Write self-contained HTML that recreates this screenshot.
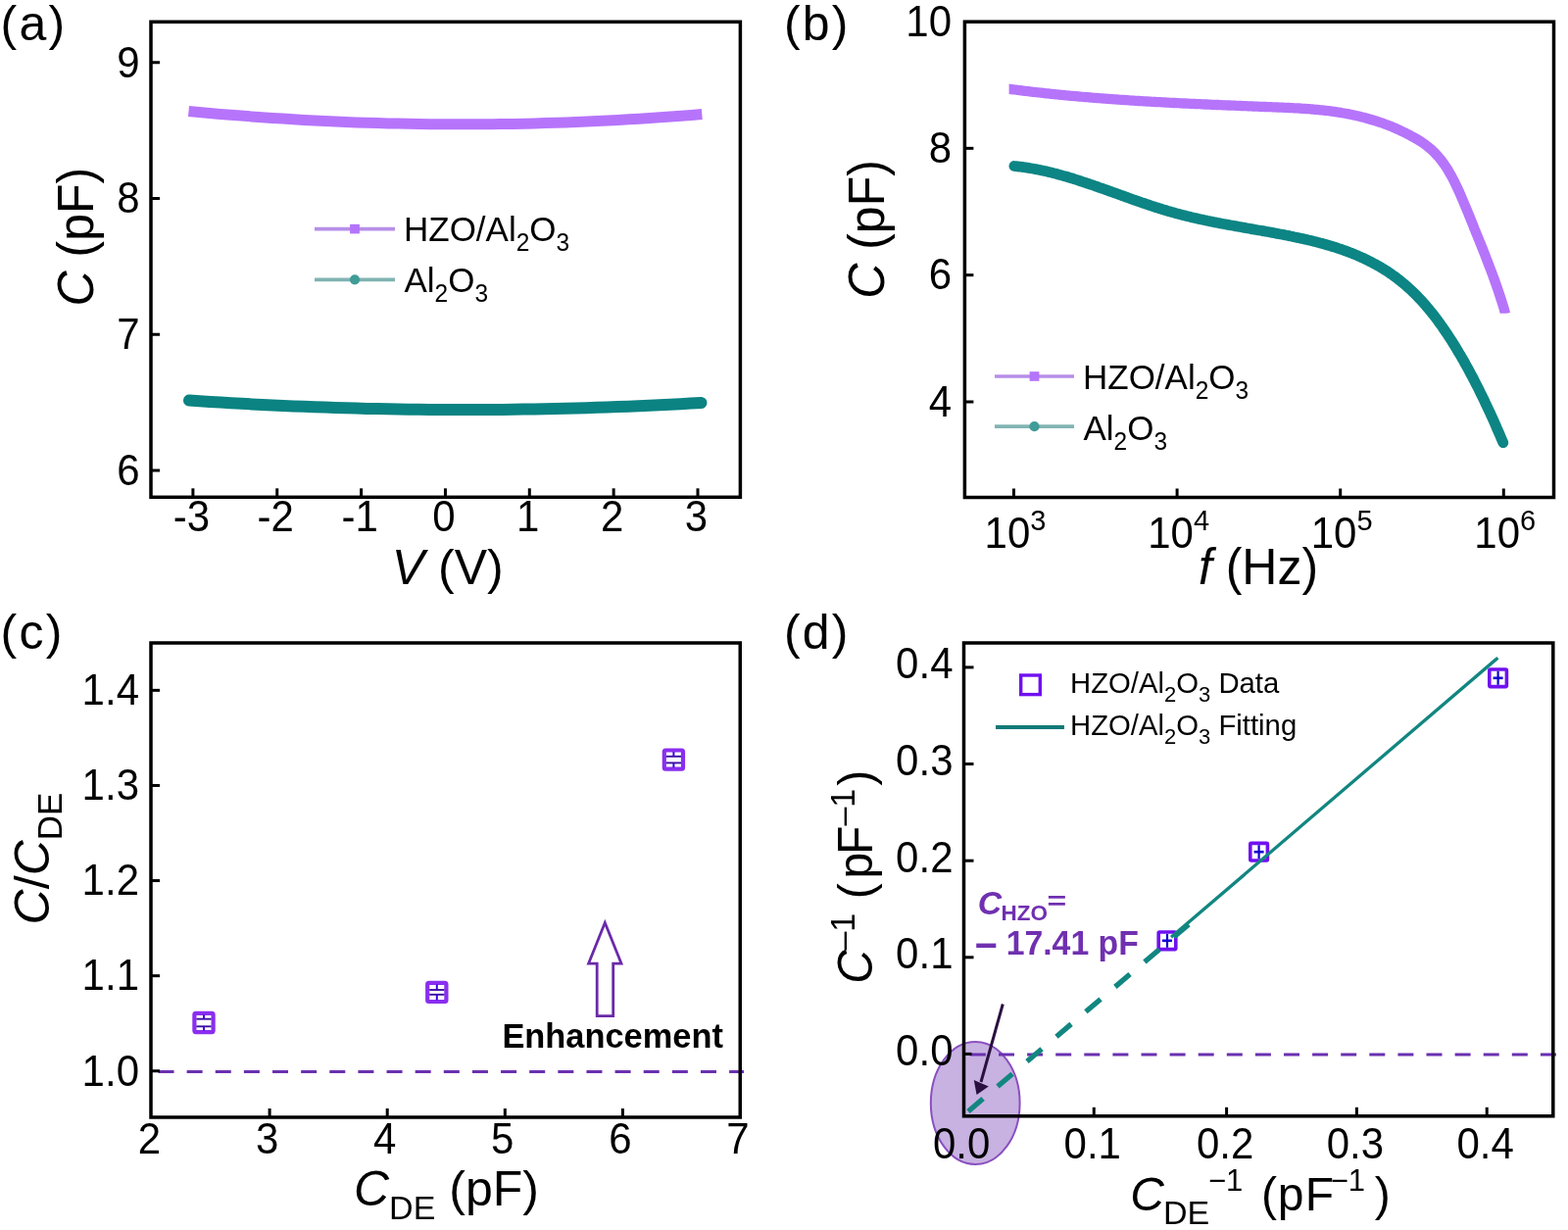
<!DOCTYPE html>
<html><head><meta charset="utf-8"><title>Capacitance figure</title>
<style>
html,body{margin:0;padding:0;background:#fff;}
svg{display:block;}
text{font-family:"Liberation Sans", Arial, sans-serif;}
</style></head>
<body>
<svg width="1600" height="1255" viewBox="0 0 1600 1255">
<rect width="1600" height="1255" fill="#fff"/>
<text transform="translate(0.60,41.40)" font-size="50" letter-spacing="2.2">(a)</text>
<text transform="translate(800.00,41.40)" font-size="50" letter-spacing="2.2">(b)</text>
<text transform="translate(0.60,661.90)" font-size="50" letter-spacing="2.2">(c)</text>
<text transform="translate(800.00,661.90)" font-size="50" letter-spacing="2.2">(d)</text>
<polyline points="192.5,113.5 203.2,114.5 213.9,115.5 224.6,116.4 235.3,117.3 245.9,118.1 256.6,118.9 267.3,119.7 278.0,120.4 288.7,121.1 299.4,121.8 310.1,122.4 320.8,123.0 331.5,123.5 342.2,124.0 352.8,124.4 363.5,124.9 374.2,125.2 384.9,125.6 395.6,125.9 406.3,126.1 417.0,126.3 427.7,126.5 438.4,126.7 449.1,126.8 459.7,126.8 470.4,126.8 481.1,126.8 491.8,126.8 502.5,126.7 513.2,126.5 523.9,126.4 534.6,126.2 545.3,125.9 556.0,125.6 566.6,125.3 577.3,124.9 588.0,124.5 598.7,124.0 609.4,123.6 620.1,123.0 630.8,122.5 641.5,121.8 652.2,121.2 662.9,120.5 673.5,119.8 684.2,119.0 694.9,118.2 705.6,117.4 716.3,116.5" fill="none" stroke="#b674fb" stroke-width="11" stroke-linecap="butt"/>
<polyline points="193.0,408.6 203.7,409.3 214.3,410.0 225.0,410.6 235.7,411.3 246.3,411.8 257.0,412.4 267.6,413.0 278.3,413.5 289.0,414.0 299.6,414.4 310.3,414.8 321.0,415.3 331.6,415.6 342.3,416.0 352.9,416.3 363.6,416.6 374.3,416.9 384.9,417.1 395.6,417.3 406.3,417.5 416.9,417.7 427.6,417.8 438.3,417.9 448.9,418.0 459.6,418.0 470.2,418.0 480.9,418.0 491.6,418.0 502.2,417.9 512.9,417.9 523.6,417.7 534.2,417.6 544.9,417.4 555.6,417.2 566.2,417.0 576.9,416.8 587.5,416.5 598.2,416.2 608.9,415.8 619.5,415.5 630.2,415.1 640.9,414.7 651.5,414.2 662.2,413.8 672.8,413.3 683.5,412.7 694.2,412.2 704.8,411.6 715.5,411.0" fill="none" stroke="#0a8382" stroke-width="12" stroke-linecap="round"/>
<rect x="154" y="22.3" width="601.4" height="485.0" fill="none" stroke="#000" stroke-width="3.5"/>
<line x1="196.9" y1="507.3" x2="196.9" y2="498.3" stroke="#000" stroke-width="3"/>
<text transform="translate(195.40,542.00) scale(1,1.035)" font-size="42" text-anchor="middle">-3</text>
<line x1="282.75" y1="507.3" x2="282.75" y2="498.3" stroke="#000" stroke-width="3"/>
<text transform="translate(281.25,542.00) scale(1,1.035)" font-size="42" text-anchor="middle">-2</text>
<line x1="368.6" y1="507.3" x2="368.6" y2="498.3" stroke="#000" stroke-width="3"/>
<text transform="translate(367.10,542.00) scale(1,1.035)" font-size="42" text-anchor="middle">-1</text>
<line x1="454.44999999999993" y1="507.3" x2="454.44999999999993" y2="498.3" stroke="#000" stroke-width="3"/>
<text transform="translate(452.95,542.00) scale(1,1.035)" font-size="42" text-anchor="middle">0</text>
<line x1="540.3" y1="507.3" x2="540.3" y2="498.3" stroke="#000" stroke-width="3"/>
<text transform="translate(538.80,542.00) scale(1,1.035)" font-size="42" text-anchor="middle">1</text>
<line x1="626.15" y1="507.3" x2="626.15" y2="498.3" stroke="#000" stroke-width="3"/>
<text transform="translate(624.65,542.00) scale(1,1.035)" font-size="42" text-anchor="middle">2</text>
<line x1="711.9999999999999" y1="507.3" x2="711.9999999999999" y2="498.3" stroke="#000" stroke-width="3"/>
<text transform="translate(710.50,542.00) scale(1,1.035)" font-size="42" text-anchor="middle">3</text>
<line x1="154" y1="480.0" x2="163" y2="480.0" stroke="#000" stroke-width="3"/>
<text transform="translate(142.50,494.80) scale(1,1.035)" font-size="42" text-anchor="end">6</text>
<line x1="154" y1="341.25" x2="163" y2="341.25" stroke="#000" stroke-width="3"/>
<text transform="translate(142.50,356.05) scale(1,1.035)" font-size="42" text-anchor="end">7</text>
<line x1="154" y1="202.5" x2="163" y2="202.5" stroke="#000" stroke-width="3"/>
<text transform="translate(142.50,217.30) scale(1,1.035)" font-size="42" text-anchor="end">8</text>
<line x1="154" y1="63.75" x2="163" y2="63.75" stroke="#000" stroke-width="3"/>
<text transform="translate(142.50,78.55) scale(1,1.035)" font-size="42" text-anchor="end">9</text>
<text transform="translate(95.30,241.70) rotate(-90) scale(1,1.02)" font-size="50" text-anchor="middle"><tspan font-style="italic">C</tspan> (pF)</text>
<text transform="translate(456.80,595.80)" font-size="50" text-anchor="middle"><tspan font-style="italic">V</tspan> (V)</text>
<line x1="321" y1="233.6" x2="403" y2="233.6" stroke="#b78ee9" stroke-width="3.6"/>
<rect x="357.1" y="228.79999999999998" width="9.8" height="9.6" fill="#b574fc"/>
<line x1="321" y1="285.3" x2="403" y2="285.3" stroke="#80b4b2" stroke-width="3.8"/>
<circle cx="362.0" cy="285.3" r="5.1" fill="#3f9c97"/>
<text transform="translate(412.00,245.90) scale(1,1.02)" font-size="35">HZO/Al<tspan font-size="24.5" dy="10">2</tspan><tspan dy="-10">O</tspan><tspan font-size="24.5" dy="10">3</tspan></text>
<text transform="translate(412.50,297.50) scale(1,1.02)" font-size="35">Al<tspan font-size="24.5" dy="10">2</tspan><tspan dy="-10">O</tspan><tspan font-size="24.5" dy="10">3</tspan></text>
<clipPath id="cpb"><rect x="1029.6" y="60" width="560" height="259.8"/></clipPath>
<polyline clip-path="url(#cpb)" points="1026.5,90.3 1030.5,90.9 1032.2,91.1 1033.9,91.3 1035.6,91.5 1037.2,91.7 1038.9,92.0 1040.6,92.2 1042.3,92.4 1044.0,92.6 1045.7,92.8 1047.4,93.0 1049.1,93.2 1050.7,93.4 1052.4,93.6 1054.1,93.8 1055.8,94.0 1057.5,94.2 1059.2,94.3 1060.9,94.5 1062.5,94.7 1064.2,94.9 1065.9,95.1 1067.6,95.3 1069.3,95.4 1071.0,95.6 1072.7,95.8 1074.4,96.0 1076.0,96.1 1077.7,96.3 1079.4,96.5 1081.1,96.6 1082.8,96.8 1084.5,97.0 1086.2,97.1 1087.8,97.3 1089.5,97.5 1091.2,97.6 1092.9,97.8 1094.6,97.9 1096.3,98.1 1098.0,98.2 1099.7,98.4 1101.3,98.5 1103.0,98.7 1104.7,98.8 1106.4,99.0 1108.1,99.1 1109.8,99.2 1111.5,99.4 1113.1,99.5 1114.8,99.7 1116.5,99.8 1118.2,99.9 1119.9,100.1 1121.6,100.2 1123.3,100.3 1125.0,100.4 1126.6,100.6 1128.3,100.7 1130.0,100.8 1131.7,100.9 1133.4,101.1 1135.1,101.2 1136.8,101.3 1138.4,101.4 1140.1,101.5 1141.8,101.7 1143.5,101.8 1145.2,101.9 1146.9,102.0 1148.6,102.1 1150.3,102.2 1151.9,102.3 1153.6,102.5 1155.3,102.6 1157.0,102.7 1158.7,102.8 1160.4,102.9 1162.1,103.0 1163.7,103.1 1165.4,103.2 1167.1,103.3 1168.8,103.4 1170.5,103.5 1172.2,103.6 1173.9,103.7 1175.5,103.8 1177.2,103.9 1178.9,104.0 1180.6,104.1 1182.3,104.2 1184.0,104.2 1185.7,104.3 1187.4,104.4 1189.0,104.5 1190.7,104.6 1192.4,104.7 1194.1,104.8 1195.8,104.9 1197.5,105.0 1199.2,105.0 1200.8,105.1 1202.5,105.2 1204.2,105.3 1205.9,105.4 1207.6,105.5 1209.3,105.5 1211.0,105.6 1212.7,105.7 1214.3,105.8 1216.0,105.9 1217.7,105.9 1219.4,106.0 1221.1,106.1 1222.8,106.2 1224.5,106.2 1226.1,106.3 1227.8,106.4 1229.5,106.5 1231.2,106.5 1232.9,106.6 1234.6,106.7 1236.3,106.8 1238.0,106.8 1239.6,106.9 1241.3,107.0 1243.0,107.0 1244.7,107.1 1246.4,107.2 1248.1,107.3 1249.8,107.3 1251.4,107.4 1253.1,107.5 1254.8,107.5 1256.5,107.6 1258.2,107.7 1259.9,107.7 1261.6,107.8 1263.3,107.9 1264.9,107.9 1266.6,108.0 1268.3,108.1 1270.0,108.2 1271.7,108.2 1273.4,108.3 1275.1,108.4 1276.7,108.4 1278.4,108.5 1280.1,108.6 1281.8,108.6 1283.5,108.7 1285.2,108.8 1286.9,108.8 1288.6,108.9 1290.2,109.0 1291.9,109.0 1293.6,109.1 1295.3,109.2 1297.0,109.2 1298.7,109.3 1300.4,109.4 1302.0,109.4 1303.7,109.5 1305.4,109.6 1307.1,109.6 1308.8,109.7 1310.5,109.8 1312.2,109.9 1313.9,109.9 1315.5,110.0 1317.2,110.1 1318.9,110.2 1320.6,110.3 1322.3,110.4 1324.0,110.4 1325.7,110.5 1327.3,110.6 1329.0,110.8 1330.7,110.9 1332.4,111.0 1334.1,111.1 1335.8,111.2 1337.5,111.4 1339.2,111.5 1340.8,111.6 1342.5,111.8 1344.2,111.9 1345.9,112.1 1347.6,112.3 1349.3,112.4 1351.0,112.6 1352.6,112.8 1354.3,113.0 1356.0,113.2 1357.7,113.4 1359.4,113.7 1361.1,113.9 1362.8,114.1 1364.5,114.4 1366.1,114.6 1367.8,114.9 1369.5,115.2 1371.2,115.5 1372.9,115.8 1374.6,116.1 1376.3,116.4 1377.9,116.7 1379.6,117.1 1381.3,117.4 1383.0,117.8 1384.7,118.2 1386.4,118.6 1388.1,119.0 1389.8,119.4 1391.4,119.8 1393.1,120.2 1394.8,120.7 1396.5,121.2 1398.2,121.7 1399.9,122.2 1401.6,122.7 1403.2,123.2 1404.9,123.7 1406.6,124.3 1408.3,124.9 1410.0,125.4 1411.7,126.0 1413.4,126.7 1415.0,127.3 1416.7,127.9 1418.4,128.6 1420.1,129.3 1421.8,130.0 1423.5,130.7 1425.2,131.5 1426.9,132.2 1428.5,133.0 1430.2,133.8 1431.9,134.6 1433.6,135.4 1435.3,136.3 1437.0,137.1 1438.7,138.0 1440.3,138.9 1442.0,139.9 1443.7,140.8 1445.4,141.8 1447.1,142.8 1448.8,143.8 1450.5,144.9 1452.2,146.0 1453.8,147.2 1455.5,148.5 1457.2,149.8 1458.9,151.2 1460.6,152.6 1462.3,154.2 1464.0,155.9 1465.6,157.6 1467.3,159.5 1469.0,161.5 1470.7,163.6 1472.4,165.9 1474.1,168.2 1475.8,170.8 1477.5,173.4 1479.1,176.3 1480.8,179.2 1482.5,182.4 1484.2,185.7 1485.9,189.2 1487.6,192.8 1489.3,196.5 1490.9,200.3 1492.6,204.2 1494.3,208.2 1496.0,212.3 1497.7,216.4 1499.4,220.5 1501.1,224.7 1502.8,228.9 1504.4,233.1 1506.1,237.2 1507.8,241.4 1509.5,245.6 1511.2,249.8 1512.9,254.0 1514.6,258.2 1516.2,262.5 1517.9,266.9 1519.6,271.3 1521.3,275.8 1523.0,280.3 1524.7,284.9 1526.4,289.7 1528.1,294.5 1529.7,299.4 1531.4,304.5 1533.1,309.8 1534.8,315.3 1536.0,320.3" fill="none" stroke="#b674fb" stroke-width="10.3" stroke-linecap="butt" stroke-linejoin="round"/>
<polyline points="1034.9,169.5 1036.6,169.7 1038.2,169.9 1039.9,170.0 1041.6,170.2 1043.2,170.4 1044.9,170.7 1046.6,170.9 1048.2,171.1 1049.9,171.4 1051.6,171.7 1053.3,172.0 1054.9,172.3 1056.6,172.6 1058.3,172.9 1059.9,173.2 1061.6,173.6 1063.3,173.9 1064.9,174.3 1066.6,174.6 1068.3,175.0 1069.9,175.4 1071.6,175.8 1073.3,176.2 1074.9,176.7 1076.6,177.1 1078.3,177.5 1080.0,178.0 1081.6,178.4 1083.3,178.9 1085.0,179.4 1086.6,179.8 1088.3,180.3 1090.0,180.8 1091.6,181.3 1093.3,181.8 1095.0,182.3 1096.6,182.9 1098.3,183.4 1100.0,183.9 1101.6,184.5 1103.3,185.0 1105.0,185.6 1106.6,186.1 1108.3,186.7 1110.0,187.2 1111.7,187.8 1113.3,188.4 1115.0,188.9 1116.7,189.5 1118.3,190.1 1120.0,190.7 1121.7,191.3 1123.3,191.8 1125.0,192.4 1126.7,193.0 1128.3,193.6 1130.0,194.2 1131.7,194.8 1133.3,195.4 1135.0,196.0 1136.7,196.6 1138.4,197.2 1140.0,197.8 1141.7,198.4 1143.4,199.0 1145.0,199.6 1146.7,200.2 1148.4,200.8 1150.0,201.4 1151.7,202.0 1153.4,202.6 1155.0,203.2 1156.7,203.8 1158.4,204.4 1160.0,205.0 1161.7,205.5 1163.4,206.1 1165.0,206.7 1166.7,207.3 1168.4,207.8 1170.1,208.4 1171.7,209.0 1173.4,209.5 1175.1,210.1 1176.7,210.6 1178.4,211.2 1180.1,211.7 1181.7,212.2 1183.4,212.8 1185.1,213.3 1186.7,213.8 1188.4,214.3 1190.1,214.8 1191.7,215.3 1193.4,215.8 1195.1,216.3 1196.8,216.7 1198.4,217.2 1200.1,217.7 1201.8,218.1 1203.4,218.6 1205.1,219.0 1206.8,219.4 1208.4,219.8 1210.1,220.3 1211.8,220.7 1213.4,221.1 1215.1,221.5 1216.8,221.9 1218.4,222.3 1220.1,222.6 1221.8,223.0 1223.4,223.4 1225.1,223.8 1226.8,224.1 1228.5,224.5 1230.1,224.8 1231.8,225.2 1233.5,225.5 1235.1,225.9 1236.8,226.2 1238.5,226.6 1240.1,226.9 1241.8,227.2 1243.5,227.5 1245.1,227.9 1246.8,228.2 1248.5,228.5 1250.1,228.8 1251.8,229.1 1253.5,229.4 1255.2,229.7 1256.8,230.0 1258.5,230.3 1260.2,230.6 1261.8,230.9 1263.5,231.2 1265.2,231.5 1266.8,231.8 1268.5,232.1 1270.2,232.4 1271.8,232.7 1273.5,233.0 1275.2,233.3 1276.8,233.6 1278.5,233.9 1280.2,234.2 1281.8,234.5 1283.5,234.8 1285.2,235.0 1286.9,235.3 1288.5,235.6 1290.2,235.9 1291.9,236.2 1293.5,236.5 1295.2,236.8 1296.9,237.1 1298.5,237.4 1300.2,237.7 1301.9,238.1 1303.5,238.4 1305.2,238.7 1306.9,239.0 1308.5,239.3 1310.2,239.6 1311.9,240.0 1313.5,240.3 1315.2,240.6 1316.9,241.0 1318.6,241.3 1320.2,241.7 1321.9,242.0 1323.6,242.4 1325.2,242.7 1326.9,243.1 1328.6,243.4 1330.2,243.8 1331.9,244.2 1333.6,244.6 1335.2,245.0 1336.9,245.3 1338.6,245.7 1340.2,246.2 1341.9,246.6 1343.6,247.0 1345.3,247.4 1346.9,247.9 1348.6,248.3 1350.3,248.8 1351.9,249.2 1353.6,249.7 1355.3,250.2 1356.9,250.7 1358.6,251.2 1360.3,251.7 1361.9,252.2 1363.6,252.7 1365.3,253.3 1366.9,253.8 1368.6,254.4 1370.3,255.0 1371.9,255.6 1373.6,256.2 1375.3,256.8 1377.0,257.5 1378.6,258.1 1380.3,258.8 1382.0,259.4 1383.6,260.1 1385.3,260.8 1387.0,261.6 1388.6,262.3 1390.3,263.1 1392.0,263.8 1393.6,264.6 1395.3,265.4 1397.0,266.3 1398.6,267.1 1400.3,268.0 1402.0,268.9 1403.7,269.8 1405.3,270.7 1407.0,271.6 1408.7,272.6 1410.3,273.6 1412.0,274.6 1413.7,275.7 1415.3,276.7 1417.0,277.8 1418.7,279.0 1420.3,280.1 1422.0,281.3 1423.7,282.5 1425.3,283.8 1427.0,285.1 1428.7,286.4 1430.3,287.7 1432.0,289.1 1433.7,290.5 1435.4,292.0 1437.0,293.5 1438.7,295.0 1440.4,296.5 1442.0,298.1 1443.7,299.8 1445.4,301.4 1447.0,303.2 1448.7,304.9 1450.4,306.7 1452.0,308.5 1453.7,310.4 1455.4,312.3 1457.0,314.3 1458.7,316.3 1460.4,318.4 1462.1,320.5 1463.7,322.6 1465.4,324.8 1467.1,327.0 1468.7,329.3 1470.4,331.6 1472.1,334.0 1473.7,336.4 1475.4,338.8 1477.1,341.3 1478.7,343.8 1480.4,346.4 1482.1,349.0 1483.7,351.7 1485.4,354.4 1487.1,357.2 1488.7,360.0 1490.4,362.8 1492.1,365.7 1493.8,368.6 1495.4,371.6 1497.1,374.6 1498.8,377.7 1500.4,380.8 1502.1,383.9 1503.8,387.1 1505.4,390.3 1507.1,393.6 1508.8,396.9 1510.4,400.3 1512.1,403.7 1513.8,407.1 1515.4,410.6 1517.1,414.1 1518.8,417.7 1520.5,421.3 1522.1,424.9 1523.8,428.6 1525.5,432.4 1527.1,436.2 1528.8,440.0 1530.5,443.9 1532.1,447.8 1533.8,451.7" fill="none" stroke="#0c8584" stroke-width="10.8" stroke-linecap="round" stroke-linejoin="round"/>
<rect x="984.4" y="22.2" width="601.1" height="485.3" fill="none" stroke="#000" stroke-width="3.5"/>
<line x1="1034.5" y1="507.5" x2="1034.5" y2="498.5" stroke="#000" stroke-width="3"/>
<text transform="translate(1036.00,558.50) scale(1,1.035)" font-size="42" text-anchor="middle">10<tspan font-size="29" dy="-17.2">3</tspan></text>
<line x1="1201.1" y1="507.5" x2="1201.1" y2="498.5" stroke="#000" stroke-width="3"/>
<text transform="translate(1202.60,558.50) scale(1,1.035)" font-size="42" text-anchor="middle">10<tspan font-size="29" dy="-17.2">4</tspan></text>
<line x1="1367.7" y1="507.5" x2="1367.7" y2="498.5" stroke="#000" stroke-width="3"/>
<text transform="translate(1369.20,558.50) scale(1,1.035)" font-size="42" text-anchor="middle">10<tspan font-size="29" dy="-17.2">5</tspan></text>
<line x1="1534.3" y1="507.5" x2="1534.3" y2="498.5" stroke="#000" stroke-width="3"/>
<text transform="translate(1535.80,558.50) scale(1,1.035)" font-size="42" text-anchor="middle">10<tspan font-size="29" dy="-17.2">6</tspan></text>
<line x1="984.4" y1="410.0" x2="993.4" y2="410.0" stroke="#000" stroke-width="3"/>
<text transform="translate(971.00,424.80) scale(1,1.035)" font-size="42" text-anchor="end">4</text>
<line x1="984.4" y1="280.666" x2="993.4" y2="280.666" stroke="#000" stroke-width="3"/>
<text transform="translate(971.00,295.47) scale(1,1.035)" font-size="42" text-anchor="end">6</text>
<line x1="984.4" y1="151.332" x2="993.4" y2="151.332" stroke="#000" stroke-width="3"/>
<text transform="translate(971.00,166.13) scale(1,1.035)" font-size="42" text-anchor="end">8</text>
<text transform="translate(971.00,36.80) scale(1,1.035)" font-size="42" text-anchor="end">10</text>
<text transform="translate(901.60,234.00) rotate(-90) scale(1,1.02)" font-size="50" text-anchor="middle"><tspan font-style="italic">C</tspan> (pF)</text>
<text transform="translate(1284.00,596.00) scale(1,1.02)" font-size="50" text-anchor="middle"><tspan font-style="italic">f</tspan> (Hz)</text>
<line x1="1015" y1="384" x2="1096" y2="384" stroke="#b78ee9" stroke-width="3.6"/>
<rect x="1050.6" y="379.2" width="9.8" height="9.6" fill="#b574fc"/>
<line x1="1015" y1="435.2" x2="1096" y2="435.2" stroke="#80b4b2" stroke-width="3.8"/>
<circle cx="1055.5" cy="435.2" r="5.1" fill="#3f9c97"/>
<text transform="translate(1105.00,397.20) scale(1,1.02)" font-size="35">HZO/Al<tspan font-size="24.5" dy="10">2</tspan><tspan dy="-10">O</tspan><tspan font-size="24.5" dy="10">3</tspan></text>
<text transform="translate(1105.50,448.80) scale(1,1.02)" font-size="35">Al<tspan font-size="24.5" dy="10">2</tspan><tspan dy="-10">O</tspan><tspan font-size="24.5" dy="10">3</tspan></text>
<line x1="161.5" y1="1093.5" x2="759" y2="1093.5" stroke="#6a30b0" stroke-width="3" stroke-dasharray="16 13.13"/>
<rect x="154" y="656" width="601.25" height="484" fill="none" stroke="#000" stroke-width="3.5"/>
<line x1="275.1" y1="1140" x2="275.1" y2="1131" stroke="#000" stroke-width="3"/>
<line x1="395.2" y1="1140" x2="395.2" y2="1131" stroke="#000" stroke-width="3"/>
<line x1="515.3" y1="1140" x2="515.3" y2="1131" stroke="#000" stroke-width="3"/>
<line x1="635.4" y1="1140" x2="635.4" y2="1131" stroke="#000" stroke-width="3"/>
<text transform="translate(152.50,1176.90) scale(1,1.035)" font-size="42" text-anchor="middle">2</text>
<text transform="translate(272.60,1176.90) scale(1,1.035)" font-size="42" text-anchor="middle">3</text>
<text transform="translate(392.70,1176.90) scale(1,1.035)" font-size="42" text-anchor="middle">4</text>
<text transform="translate(512.80,1176.90) scale(1,1.035)" font-size="42" text-anchor="middle">5</text>
<text transform="translate(632.90,1176.90) scale(1,1.035)" font-size="42" text-anchor="middle">6</text>
<text transform="translate(753.00,1176.90) scale(1,1.035)" font-size="42" text-anchor="middle">7</text>
<line x1="154" y1="1092.75" x2="163" y2="1092.75" stroke="#000" stroke-width="3"/>
<text transform="translate(142.00,1107.55) scale(1,1.035)" font-size="42" text-anchor="end">1.0</text>
<line x1="154" y1="995.6499999999999" x2="163" y2="995.6499999999999" stroke="#000" stroke-width="3"/>
<text transform="translate(142.00,1010.45) scale(1,1.035)" font-size="42" text-anchor="end">1.1</text>
<line x1="154" y1="898.5500000000001" x2="163" y2="898.5500000000001" stroke="#000" stroke-width="3"/>
<text transform="translate(142.00,913.35) scale(1,1.035)" font-size="42" text-anchor="end">1.2</text>
<line x1="154" y1="801.4499999999999" x2="163" y2="801.4499999999999" stroke="#000" stroke-width="3"/>
<text transform="translate(142.00,816.25) scale(1,1.035)" font-size="42" text-anchor="end">1.3</text>
<line x1="154" y1="704.3500000000001" x2="163" y2="704.3500000000001" stroke="#000" stroke-width="3"/>
<text transform="translate(142.00,719.15) scale(1,1.035)" font-size="42" text-anchor="end">1.4</text>
<rect x="198.4" y="1033.9" width="19.2" height="19.2" fill="#fff" stroke="#8a2ef0" stroke-width="4.2" rx="1.5"/>
<line x1="200.4" y1="1039.7" x2="215.6" y2="1039.7" stroke="#3a10a0" stroke-width="1.9"/>
<line x1="200.4" y1="1047.3" x2="215.6" y2="1047.3" stroke="#3a10a0" stroke-width="1.9"/>
<line x1="208" y1="1035.5" x2="208" y2="1039.7" stroke="#3a00e0" stroke-width="2"/>
<line x1="208" y1="1047.3" x2="208" y2="1051.5" stroke="#3a00e0" stroke-width="2"/>
<rect x="436.2" y="1002.8" width="19.2" height="19.2" fill="#fff" stroke="#8a2ef0" stroke-width="4.2" rx="1.5"/>
<line x1="438.2" y1="1010.0" x2="453.40000000000003" y2="1010.0" stroke="#3a10a0" stroke-width="1.9"/>
<line x1="438.2" y1="1014.8" x2="453.40000000000003" y2="1014.8" stroke="#3a10a0" stroke-width="1.9"/>
<line x1="445.8" y1="1004.4" x2="445.8" y2="1010.0" stroke="#3a00e0" stroke-width="2"/>
<line x1="445.8" y1="1014.8" x2="445.8" y2="1020.4" stroke="#3a00e0" stroke-width="2"/>
<rect x="677.8" y="765.5" width="19.2" height="19.2" fill="#fff" stroke="#8a2ef0" stroke-width="4.2" rx="1.5"/>
<line x1="679.8" y1="771.8000000000001" x2="695.0" y2="771.8000000000001" stroke="#3a10a0" stroke-width="1.9"/>
<line x1="679.8" y1="778.4" x2="695.0" y2="778.4" stroke="#3a10a0" stroke-width="1.9"/>
<line x1="687.4" y1="767.1" x2="687.4" y2="771.8000000000001" stroke="#3a00e0" stroke-width="2"/>
<line x1="687.4" y1="778.4" x2="687.4" y2="783.1" stroke="#3a00e0" stroke-width="2"/>
<path d="M617.3,941.5 L634,983.1 L625.7,983.1 L625.7,1036.6 L609.2,1036.6 L609.2,983.1 L600.6,983.1 Z" fill="none" stroke="#6a2aa8" stroke-width="2.8" stroke-linejoin="miter"/>
<text transform="translate(737.90,1068.80)" font-size="34.4" text-anchor="end" font-weight="bold">Enhancement</text>
<text transform="translate(49.50,876.00) rotate(-90)" font-size="50" text-anchor="middle"><tspan font-style="italic">C</tspan>/<tspan font-style="italic">C</tspan><tspan font-size="35" dy="13">DE</tspan></text>
<text transform="translate(361.00,1230.00)" font-size="50"><tspan font-style="italic">C</tspan><tspan font-size="34" dy="13.5">DE</tspan><tspan dy="-13.5"> (pF)</tspan></text>
<ellipse cx="995.2" cy="1125.5" rx="45.4" ry="62.5" fill="#c8b2e2" stroke="#8a50c0" stroke-width="2"/>
<line x1="989.9" y1="1076" x2="1588" y2="1076" stroke="#6a30b0" stroke-width="3" stroke-dasharray="16 13.1"/>
<rect x="983.5" y="656" width="601.3" height="482.79999999999995" fill="none" stroke="#000" stroke-width="3.5"/>
<line x1="1116.25" y1="1138.8" x2="1116.25" y2="1129.8" stroke="#000" stroke-width="3"/>
<line x1="1251.6" y1="1138.8" x2="1251.6" y2="1129.8" stroke="#000" stroke-width="3"/>
<line x1="1384.4" y1="1138.8" x2="1384.4" y2="1129.8" stroke="#000" stroke-width="3"/>
<line x1="1517.2" y1="1138.8" x2="1517.2" y2="1129.8" stroke="#000" stroke-width="3"/>
<text transform="translate(981.15,1182.00) scale(1,1.035)" font-size="42" text-anchor="middle">0.0</text>
<line x1="983.5" y1="1075.4" x2="991.5" y2="1075.4" stroke="#000" stroke-width="3"/>
<text transform="translate(972.50,1086.90) scale(1,1.035)" font-size="42" text-anchor="end">0.0</text>
<text transform="translate(1114.75,1182.00) scale(1,1.035)" font-size="42" text-anchor="middle">0.1</text>
<line x1="983.5" y1="976.8" x2="993.5" y2="976.8" stroke="#000" stroke-width="3"/>
<text transform="translate(972.50,988.30) scale(1,1.035)" font-size="42" text-anchor="end">0.1</text>
<text transform="translate(1250.10,1182.00) scale(1,1.035)" font-size="42" text-anchor="middle">0.2</text>
<line x1="983.5" y1="878.2" x2="993.5" y2="878.2" stroke="#000" stroke-width="3"/>
<text transform="translate(972.50,889.70) scale(1,1.035)" font-size="42" text-anchor="end">0.2</text>
<text transform="translate(1382.90,1182.00) scale(1,1.035)" font-size="42" text-anchor="middle">0.3</text>
<line x1="983.5" y1="779.5" x2="993.5" y2="779.5" stroke="#000" stroke-width="3"/>
<text transform="translate(972.50,791.00) scale(1,1.035)" font-size="42" text-anchor="end">0.3</text>
<text transform="translate(1515.70,1182.00) scale(1,1.035)" font-size="42" text-anchor="middle">0.4</text>
<line x1="983.5" y1="680.9" x2="993.5" y2="680.9" stroke="#000" stroke-width="3"/>
<text transform="translate(972.50,692.40) scale(1,1.035)" font-size="42" text-anchor="end">0.4</text>
<rect x="1182.2" y="951.0" width="17.6" height="17.6" fill="none" stroke="#7010f0" stroke-width="3.6" rx="1"/>
<line x1="1191" y1="952.8" x2="1191" y2="966.8" stroke="#1000d0" stroke-width="2.2"/>
<line x1="1186" y1="959.8" x2="1196" y2="959.8" stroke="#1000d0" stroke-width="2.6"/>
<rect x="1275.8" y="860.4000000000001" width="17.6" height="17.6" fill="none" stroke="#7010f0" stroke-width="3.6" rx="1"/>
<line x1="1284.6" y1="862.2" x2="1284.6" y2="876.2" stroke="#1000d0" stroke-width="2.2"/>
<line x1="1279.6" y1="869.2" x2="1289.6" y2="869.2" stroke="#1000d0" stroke-width="2.6"/>
<rect x="1519.8" y="683.0" width="17.6" height="17.6" fill="none" stroke="#7010f0" stroke-width="3.6" rx="1"/>
<line x1="1528.6" y1="684.8" x2="1528.6" y2="698.8" stroke="#1000d0" stroke-width="2.2"/>
<line x1="1523.6" y1="691.8" x2="1533.6" y2="691.8" stroke="#1000d0" stroke-width="2.6"/>
<line x1="988" y1="1133.9" x2="1214" y2="942.4" stroke="#128680" stroke-width="5.3" stroke-dasharray="19.8 19.5"/>
<line x1="1195" y1="956.3" x2="1528.4" y2="671.2" stroke="#128680" stroke-width="3.3"/>
<line x1="1023.3" y1="1024.5" x2="1001" y2="1104" stroke="#2a1040" stroke-width="3"/>
<polygon points="993.75,1101.9 1008.75,1108.4 996.6,1116.9" fill="#2a1040"/>
<rect x="1041.7" y="689" width="19.6" height="19.6" fill="none" stroke="#7010f0" stroke-width="3.4"/>
<line x1="1016" y1="741.9" x2="1086" y2="741.9" stroke="#107a78" stroke-width="4"/>
<text transform="translate(1092.00,707.40) scale(1,1.03)" font-size="29.3">HZO/Al<tspan font-size="22" dy="8.2">2</tspan><tspan dy="-8.2">O</tspan><tspan font-size="22" dy="8.2">3</tspan><tspan dy="-8.2"> Data</tspan></text>
<text transform="translate(1092.00,750.40) scale(1,1.03)" font-size="29.3">HZO/Al<tspan font-size="22" dy="8.2">2</tspan><tspan dy="-8.2">O</tspan><tspan font-size="22" dy="8.2">3</tspan><tspan dy="-8.2"> Fitting</tspan></text>
<text transform="translate(997.75,932.50)" font-size="33.8" fill="#7030b0" font-weight="bold" font-style="italic">C</text>
<text transform="translate(1021.50,939.40)" font-size="22.5" fill="#7030b0" font-weight="bold">HZO</text>
<text transform="translate(1068.60,927.50) scale(1,0.78)" font-size="33.8" fill="#7030b0" font-weight="bold">=</text>
<text transform="translate(995.03,976.50) scale(1.2,1.3)" font-size="33.8" fill="#7030b0" font-weight="bold">–</text>
<text transform="translate(1026.65,973.75) scale(1,1.02)" font-size="33.8" fill="#7030b0" font-weight="bold">17.41 pF</text>
<text transform="translate(890.00,1003.85) rotate(-90) scale(1,1.04)" font-size="48" font-style="italic">C</text>
<text transform="translate(871.60,969.60) rotate(-90) scale(1,1.04)" font-size="34">–1</text>
<text transform="translate(890.00,917.20) rotate(-90) scale(1,1.04)" font-size="48">(</text>
<text transform="translate(890.00,896.60) rotate(-90) scale(1,1.04)" font-size="48">p</text>
<text transform="translate(890.00,871.90) rotate(-90) scale(1,1.04)" font-size="48">F</text>
<text transform="translate(871.60,842.60) rotate(-90) scale(1,1.04)" font-size="34">–1</text>
<text transform="translate(890.00,801.80) rotate(-90) scale(1,1.04)" font-size="48">)</text>
<text transform="translate(1153.25,1235.00)" font-size="48" font-style="italic">C</text>
<text transform="translate(1186.90,1249.00)" font-size="34">DE</text>
<text transform="translate(1232.90,1215.40)" font-size="31">−1</text>
<text transform="translate(1287.00,1235.00)" font-size="48">(</text>
<text transform="translate(1303.80,1235.00)" font-size="48">p</text>
<text transform="translate(1331.70,1235.00)" font-size="48">F</text>
<text transform="translate(1357.70,1215.40)" font-size="31">−1</text>
<text transform="translate(1402.70,1235.00)" font-size="48">)</text>
</svg>
</body></html>
